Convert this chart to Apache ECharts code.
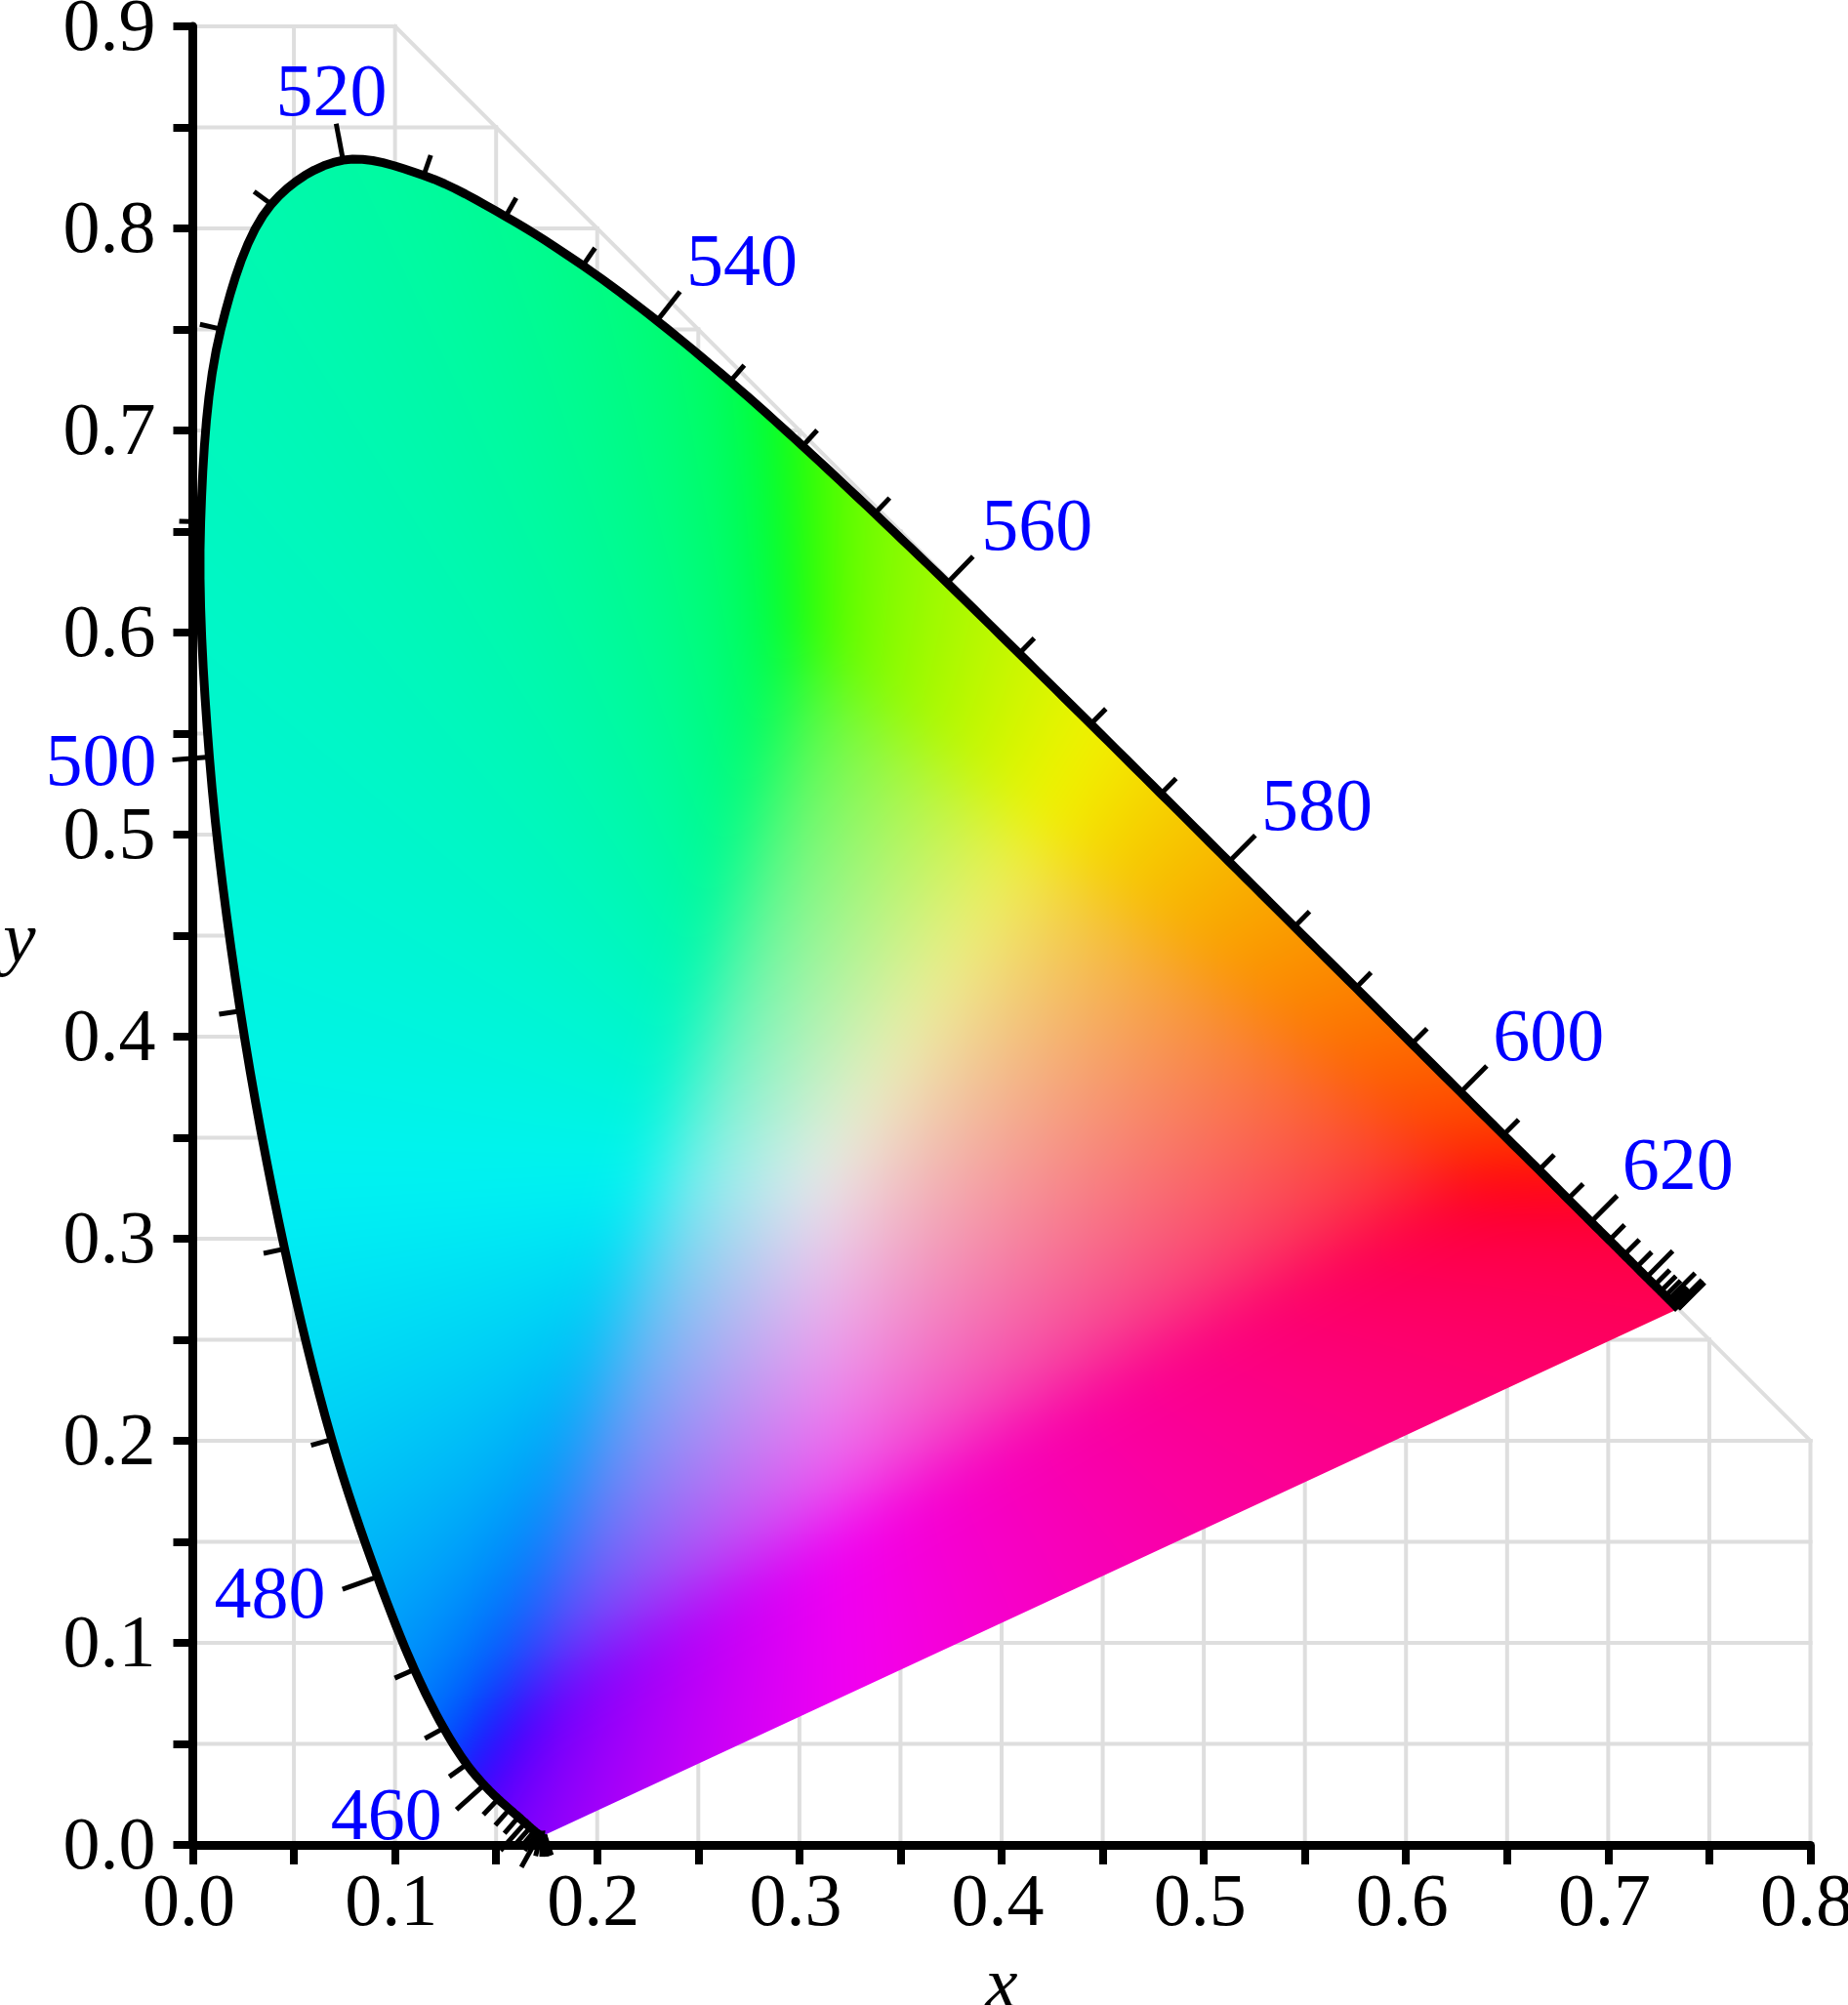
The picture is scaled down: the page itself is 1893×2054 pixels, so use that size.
<!DOCTYPE html>
<html><head><meta charset="utf-8">
<style>html,body{margin:0;padding:0;background:#fff}#c{width:1893px;height:2054px}</style>
<script src="https://cdn.jsdelivr.net/npm/echarts@6/dist/echarts.min.js"></script>
</head><body><div id="c"></div>
<script>
const wavelengths=[380,385,390,395,400,405,410,415,420,425,430,435,440,445,450,455,460,465,470,475,480,485,490,495,500,505,510,515,520,525,530,535,540,545,550,555,560,565,570,575,580,585,590,595,600,605,610,615,620,625,630,635,640,645,650,655,660,665,670,675,680,685,690,695,700];
const locusX=[.1741,.1740,.1738,.1736,.1733,.1730,.1726,.1721,.1714,.1703,.1689,.1669,.1644,.1611,.1566,.1510,.1440,.1355,.1241,.1096,.0913,.0687,.0454,.0235,.0082,.0039,.0139,.0389,.0743,.1142,.1547,.1929,.2296,.2658,.3016,.3373,.3731,.4087,.4441,.4788,.5125,.5448,.5752,.6029,.6270,.6482,.6658,.6801,.6915,.7006,.7079,.7140,.7190,.7230,.7260,.7283,.7300,.7311,.7320,.7327,.7334,.7340,.7344,.7346,.7347];
const locusY=[.0050,.0050,.0049,.0049,.0048,.0048,.0048,.0048,.0051,.0058,.0069,.0086,.0109,.0138,.0177,.0227,.0297,.0399,.0578,.0868,.1327,.2007,.2950,.4127,.5384,.6548,.7502,.8120,.8338,.8262,.8059,.7816,.7543,.7243,.6923,.6589,.6245,.5896,.5547,.5202,.4866,.4544,.4242,.3965,.3725,.3514,.3340,.3197,.3083,.2993,.2920,.2859,.2809,.2770,.2740,.2717,.2700,.2689,.2680,.2673,.2666,.2660,.2656,.2654,.2653];
const labelledWavelengths=[460,480,500,520,540,560,580,600,620];
const gridXValues=[0.05,0.1,0.15,0.2,0.25,0.3,0.35,0.4,0.45,0.5,0.55,0.6,0.65,0.7,0.75,0.8];
const gridYValues=[0.05,0.1,0.15,0.2,0.25,0.3,0.35,0.4,0.45,0.5,0.55,0.6,0.65,0.7,0.75,0.8,0.85,0.9];
const xMax=0.8,yMax=0.9;

const labelOffset={460:[-100,36],480:[-110,22],500:[-111,9],520:[-12,-66],540:[87,-57],560:[92,-54],580:[90,-53],600:[90,-53],620:[89,-54]};
const serif='"Liberation Serif","Times New Roman",serif';

function channel(v){v=Math.max(0,Math.min(1,v));return v<=0.0031308?12.92*v:1.055*Math.pow(v,1/2.4)-0.055;}
function chroma(x,y){
  const X=x/y,Y=1,Z=(1-x-y)/y;
  let r=3.2406*X-1.5372*Y-0.4986*Z,g=-0.9689*X+1.8758*Y+0.0415*Z,b=0.0557*X-0.2040*Y+1.0570*Z;
  const lo=Math.min(r,g,b,0);r-=lo;g-=lo;b-=lo;
  const m=Math.max(r,g,b)||1;
  const c=[channel(r/m),channel(g/m),channel(b/m)];
  const s=c.slice().sort((a,b)=>b-a);
  const k=1-0.05*s[1]*s[1]-0.03*s[2];
  return [c[0]*k*255,c[1]*k*255,c[2]*k*255];
}
let colourCanvas=null;
function buildCanvas(w,h){
  if(colourCanvas)return colourCanvas;
  const pad=160,W=w+2*pad,H=h+2*pad;
  const cv=document.createElement('canvas');cv.width=W;cv.height=H;
  const ctx=cv.getContext('2d'),img=ctx.createImageData(W,H);
  for(let j=0;j<H;j++)for(let i=0;i<W;i++){
    const x=Math.max(1e-3,(i-pad+.5)/w*xMax),y=Math.max(2e-3,(1-(j-pad+.5)/h)*yMax);
    const c=chroma(x,y),k=(j*W+i)*4;
    img.data[k]=c[0];img.data[k+1]=c[1];img.data[k+2]=c[2];img.data[k+3]=255;
  }
  ctx.putImageData(img,0,0);
  const out=document.createElement('canvas');out.width=w;out.height=h;
  const o=out.getContext('2d');o.filter='blur(30px)';o.drawImage(cv,-pad,-pad);
  return colourCanvas=out;
}
const polygonData=locusX.map((x,i)=>[x,locusY[i]]);
function smoothPixels(pts){
  const out=[];const n=pts.length;
  for(let i=0;i<n-1;i++){
    const p0=pts[Math.max(0,i-1)],p1=pts[i],p2=pts[i+1],p3=pts[Math.min(n-1,i+2)];
    const d=(a,b)=>Math.max(1e-3,Math.pow(Math.hypot(a[0]-b[0],a[1]-b[1]),0.5));
    const t1=d(p0,p1),t2=t1+d(p1,p2),t3=t2+d(p2,p3);
    for(let s=0;s<8;s++){
      const t=t1+(t2-t1)*s/8,L=(a,b,ta,tb)=>[a[0]+(b[0]-a[0])*(t-ta)/(tb-ta),a[1]+(b[1]-a[1])*(t-ta)/(tb-ta)];
      const A1=L(p0,p1,0,t1),A2=L(p1,p2,t1,t2),A3=L(p2,p3,t2,t3);
      const B1=L(A1,A2,0,t2),B2=L(A2,A3,t1,t3);
      out.push(L(B1,B2,t1,t2));
    }
  }
  out.push(pts[n-1]);
  return out;
}
const gridSegments=[];
gridXValues.forEach(x=>gridSegments.push([x,0,x,Math.min(yMax,1-x)]));
gridYValues.forEach(y=>gridSegments.push([0,y,Math.min(xMax,1-y),y]));
gridSegments.push([0.1,0.9,0.8,0.2]);

const chart=echarts.init(document.getElementById('c'),null,{renderer:'canvas'});
const axisCommon={
  type:'value',interval:0.05,z:10,
  axisLine:{show:true,onZero:false,lineStyle:{color:'#000',width:9}},
  axisTick:{show:true,length:20,lineStyle:{color:'#000',width:8}},
  splitLine:{show:false},minorTick:{show:false},
  axisLabel:{
    show:true,color:'#000',fontFamily:serif,fontSize:76,showMinLabel:true,showMaxLabel:true,hideOverlap:false,
    formatter:v=>{const n=Math.round(v*20);return n%2===0?(n/20).toFixed(1):'';}
  },
  nameTextStyle:{color:'#000',fontFamily:serif,fontStyle:'italic',fontSize:75}
};
chart.setOption({
  animation:false,
  grid:{left:197.5,top:27,width:1657,height:1863,containLabel:false,outerBoundsMode:'none'},
  xAxis:Object.assign({},axisCommon,{min:0,max:xMax,name:'x',nameLocation:'middle',nameGap:109,
    axisLabel:Object.assign({},axisCommon.axisLabel,{margin:24,padding:[0,8,0,0]})}),
  yAxis:Object.assign({},axisCommon,{min:0,max:yMax,name:'y',nameLocation:'middle',nameGap:161,nameRotate:0,
    nameTextStyle:Object.assign({},axisCommon.nameTextStyle,{verticalAlign:'top',lineHeight:14}),
    axisLabel:Object.assign({},axisCommon.axisLabel,{margin:38,verticalAlign:'top',lineHeight:8})}),
  series:[
    {type:'custom',name:'grid',z:1,silent:true,clip:false,data:gridSegments,
     renderItem(p,api){
       const a=api.coord([api.value(0),api.value(1)]),b=api.coord([api.value(2),api.value(3)]);
       return {type:'line',shape:{x1:a[0],y1:a[1],x2:b[0],y2:b[1]},style:{stroke:'#dedede',lineWidth:4,lineCap:'square'}};
     }},
    {type:'custom',name:'locus',z:2,silent:true,clip:false,data:[[locusX[0],locusY[0]]],
     renderItem(p,api){
       const o=api.coord([0,yMax]),e=api.coord([xMax,0]);
       const w=Math.round(e[0]-o[0]),h=Math.round(e[1]-o[1]);
       const curve=smoothPixels(polygonData.map(q=>api.coord(q)));
       return {type:'group',children:[
         {type:'image',style:{image:buildCanvas(w,h),x:o[0],y:o[1],width:w,height:h},
          clipPath:{type:'polygon',shape:{points:curve}}},
         {type:'polyline',shape:{points:curve},style:{fill:null,stroke:'#000',lineWidth:9,lineJoin:'round'},z2:5}
       ]};
     }},
    {type:'custom',name:'ticks',z:3,silent:true,clip:false,
     data:wavelengths.map((w,i)=>[locusX[i],locusY[i],w,i]),
     renderItem(p,api){
       const i=api.value(3),w=api.value(2);
       const c=api.coord(polygonData[i]);
       const a=api.coord(polygonData[Math.max(0,i-1)]),b=api.coord(polygonData[Math.min(polygonData.length-1,i+1)]);
       let dx=b[0]-a[0],dy=b[1]-a[1],n=Math.hypot(dx,dy)||1;dx/=n;dy/=n;
       let nx=dy,ny=-dx;
       const wc=api.coord([0.33,0.33]);
       if((c[0]-wc[0])*nx+(c[1]-wc[1])*ny<0){nx=-nx;ny=-ny;}
       const len=(w%20===0&&w>=420)?38:22;
       const kids=[{type:'line',shape:{x1:c[0],y1:c[1],x2:c[0]+nx*len,y2:c[1]+ny*len},style:{stroke:'#000',lineWidth:5}}];
       if(labelledWavelengths.includes(w)){
         const o=labelOffset[w];
         kids.push({type:'text',style:{text:String(w),x:c[0]+o[0],y:c[1]+o[1],align:'center',verticalAlign:'middle',fill:'#0000ff',font:'76px '+serif}});
       }
       return {type:'group',children:kids};
     }}
  ]
});
</script></body></html>
